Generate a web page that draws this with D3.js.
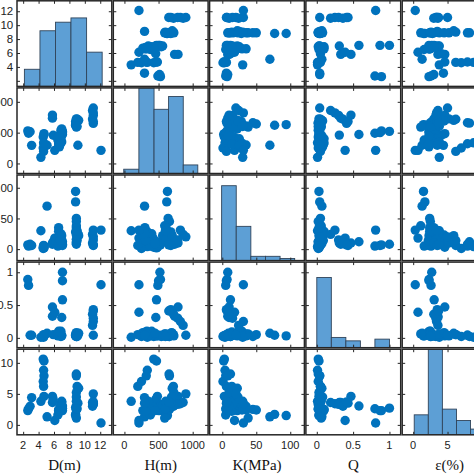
<!DOCTYPE html>
<html>
<head>
<meta charset="utf-8">
<script src="https://cdn.jsdelivr.net/npm/d3@7"></script>
<style>
  html, body { margin: 0; padding: 0; background: #fff; overflow: hidden; }
</style>
</head>
<body>
<div id="chart"></div>
<script>
// variable names (axis titles)
const names = ['D(m)', 'H(m)', 'K(MPa)', 'Q', 'ε(%)'];

// 56 records, one value per variable
const D_m = [2.6, 2.7, 2.9, 3.1, 4.3, 4.6, 4.7, 4.65, 4.7, 4.6, 4.65, 4.7, 5.1, 5.8, 5.8, 5.9, 6.1,
  7.1, 7.1, 7.1, 7.0, 6.6, 6.6, 6.5, 6.8, 6.9, 6.7, 7.0, 6.9, 6.6, 7.0, 6.8,
  8.8, 8.8, 8.9, 8.9, 8.9, 8.9, 8.9, 8.9, 9.0, 8.9, 9.2, 9.1, 8.8, 8.9, 8.9, 9.0,
  11.1, 11.0, 11.1, 11.1, 11.0, 11.1, 11.1, 12.1];
const H_m = [528, 490, 515, 294, 99, 430, 470, 335, 320, 250, 196, 483, 295, 785, 735, 458, 213,
  520, 500, 470, 460, 300, 330, 380, 420, 540, 270, 350, 400, 450, 560, 310,
  630, 620, 640, 660, 590, 610, 654, 660, 717, 724, 700, 295, 680, 605, 690, 600,
  900, 860, 820, 780, 720, 680, 650, 213];
const K_MPa = [7, 5, 8, 6, 30, 3, 2, 4, 5, 1, 6, 3, 70, 10, 8, 12, 18,
  8, 6, 12, 10, 35, 29, 5, 18, 12, 22, 15, 25, 9, 22, 14,
  94, 77, 50, 45, 38, 35, 12, 8, 14, 10, 22, 25, 28, 16, 23, 30,
  20, 24, 31, 15, 10, 6, 7, 31];
const Q = [0.89, 0.80, 0.04, 0.04, 0.01, 0.02, 0.03, 0.01, 0.04, 0.02, 0.05, 0.03, 0.07, 0.47, 0.33, 0.05, 0.39,
  1.0, 0.87, 0.58, 0.31, 0.06, 0.10, 0.03, 0.05, 0.02, 0.08, 0.04, 0.10, 0.07, 0.03, 0.09,
  0.03, 0.04, 0.05, 0.02, 0.06, 0.03, 0.02, 0.04, 0.05, 0.03, 0.07, 0.04, 0.05, 0.06, 0.08, 0.02,
  0.04, 0.19, 0.25, 0.30, 0.36, 0.43, 0.41, 0.81];
const eps = [2.3, 2.6, 3.0, 4.4, 3.8, 10.6, 10.3, 8.8, 7.9, 7.0, 6.2, 4.6, 1.3, 4.6, 3.6, 4.1, 0.7,
  2.7, 2.3, 3.05, 3.6, 2.4, 2.4, 1.6, 2.9, 3.3, 2.3, 3.8, 2.5, 2.3, 3.1, 2.2,
  1.5, 1.7, 2.4, 2.5, 1.1, 3.0, 8.2, 7.9, 6.2, 5.2, 5.9, 3.5, 2.8, 3.8, 4.5, 2.6,
  5.0, 3.6, 3.4, 3.3, 3.0, 3.5, 3.7, 0.3];

const columns = [D_m, H_m, K_MPa, Q, eps];

// axis limits (same for x and y of a variable) and ticks
const limits = [[1.2, 13.5], [-163, 1226], [-18.7, 120.8], [-0.15, 1.155], [-1.6, 12.2]];
const ticks = [[2, 4, 6, 8, 10, 12], [0, 500, 1000], [0, 50, 100], [0, 0.5, 1], [0, 5, 10]];
const yLabelTicks = [[4, 6, 8, 10, 12], [0, 500, 1000], [0, 50, 100], [0, 0.5, 1], [0, 5, 10]];

// histograms on the diagonal
const binEdges = [
  [2.16, 4.18, 6.2, 8.2, 10.23, 12.25],
  [-10, 212, 434, 647, 862, 1075],
  [-1, 20.5, 42, 63.5, 85, 106.5],
  [0, 0.2, 0.4, 0.6, 0.8, 1.0],
  [0.15, 2.2, 4.25, 6.3, 8.35, 10.4]
];
const binCounts = [
  [4, 13, 15, 16, 8],
  [1, 20, 15, 18, 2],
  [35, 16, 2, 2, 1],
  [41, 6, 4, 0, 5],
  [7, 30, 9, 5, 2]
];
const histMax = [20, 20, 40, 50, 30];

const width = 474, height = 474;
const padL = 17, padT = 0.8, pw = 94.8, ph = 85.6, gap = 1.5;
const n = names.length;
const dark = '#262626';
const blue = '#0072BD';

const svg = d3.select('#chart').append('svg')
  .attr('width', width).attr('height', height)
  .style('display', 'block');

const defs = svg.append('defs');
defs.append('clipPath').attr('id', 'panel-clip')
  .append('rect').attr('width', pw).attr('height', ph);

for (let i = 0; i < n; i++) {
  for (let j = 0; j < n; j++) {
    const x0 = padL + j * (pw + gap);
    const y0 = padT + i * (ph + gap);
    const xs = d3.scaleLinear().domain(limits[j]).range([0, pw]);
    const ys = d3.scaleLinear().domain(limits[i]).range([ph, 0]);

    const g = svg.append('g').attr('transform', `translate(${x0},${y0})`);

    if (i === j) {
      const hy = d3.scaleLinear().domain([0, histMax[i]]).range([ph, 0]);
      const edges = binEdges[i];
      g.append('g').attr('clip-path', 'url(#panel-clip)')
        .selectAll('rect')
        .data(binCounts[i])
        .join('rect')
        .attr('x', (c, k) => xs(edges[k]))
        .attr('width', (c, k) => xs(edges[k + 1]) - xs(edges[k]))
        .attr('y', c => hy(c))
        .attr('height', c => ph - hy(c))
        .attr('fill', '#5d9fd5')
        .attr('stroke', '#30445a')
        .attr('stroke-width', 0.9);
    } else {
      const xv = columns[j], yv = columns[i];
      g.selectAll('circle')
        .data(d3.range(xv.length))
        .join('circle')
        .attr('cx', k => xs(xv[k]))
        .attr('cy', k => ys(yv[k]))
        .attr('r', 4.7)
        .attr('fill', blue);
    }

    // inward tick marks on all four sides
    const tk = 3;
    const axes = [
      [d3.axisBottom(xs).tickValues(ticks[j]), `translate(0,${ph})`],
      [d3.axisTop(xs).tickValues(ticks[j]), 'translate(0,0)'],
      [d3.axisLeft(ys).tickValues(ticks[i]), 'translate(0,0)'],
      [d3.axisRight(ys).tickValues(ticks[i]), `translate(${pw},0)`]
    ];
    axes.forEach(([ax, tr]) => {
      const a = g.append('g').attr('transform', tr)
        .call(ax.tickSize(-tk).tickFormat(''));
      a.select('.domain').remove();
      a.selectAll('line').attr('stroke', dark).attr('stroke-width', 1);
    });

    g.append('rect')
      .attr('width', pw).attr('height', ph)
      .attr('fill', 'none')
      .attr('stroke', dark)
      .attr('stroke-width', 1.5);

    // tick labels: bottom row and left column only
    if (i === n - 1) {
      g.selectAll('text.xl')
        .data(ticks[j])
        .join('text')
        .attr('class', 'xl')
        .attr('x', t => xs(t))
        .attr('y', ph + 14.5)
        .attr('text-anchor', 'middle')
        .attr('font-family', 'Liberation Sans, Arial, sans-serif')
        .attr('font-size', 11)
        .attr('fill', '#222')
        .text(t => t);
    }
    if (j === 0) {
      g.selectAll('text.yl')
        .data(yLabelTicks[i])
        .join('text')
        .attr('class', 'yl')
        .attr('x', -3.8)
        .attr('y', t => ys(t))
        .attr('dy', '0.36em')
        .attr('text-anchor', 'end')
        .attr('font-family', 'Liberation Sans, Arial, sans-serif')
        .attr('font-size', 11.5)
        .attr('fill', '#222')
        .text(t => t);
    }
  }
}

// variable titles under each column
svg.selectAll('text.title')
  .data(names)
  .join('text')
  .attr('class', 'title')
  .attr('x', (d, j) => padL + j * (pw + gap) + pw / 2)
  .attr('y', 469.5)
  .attr('text-anchor', 'middle')
  .attr('font-family', 'Liberation Serif, Times New Roman, serif')
  .attr('font-size', 15)
  .attr('fill', '#111')
  .text(d => d);
</script>
</body>
</html>
